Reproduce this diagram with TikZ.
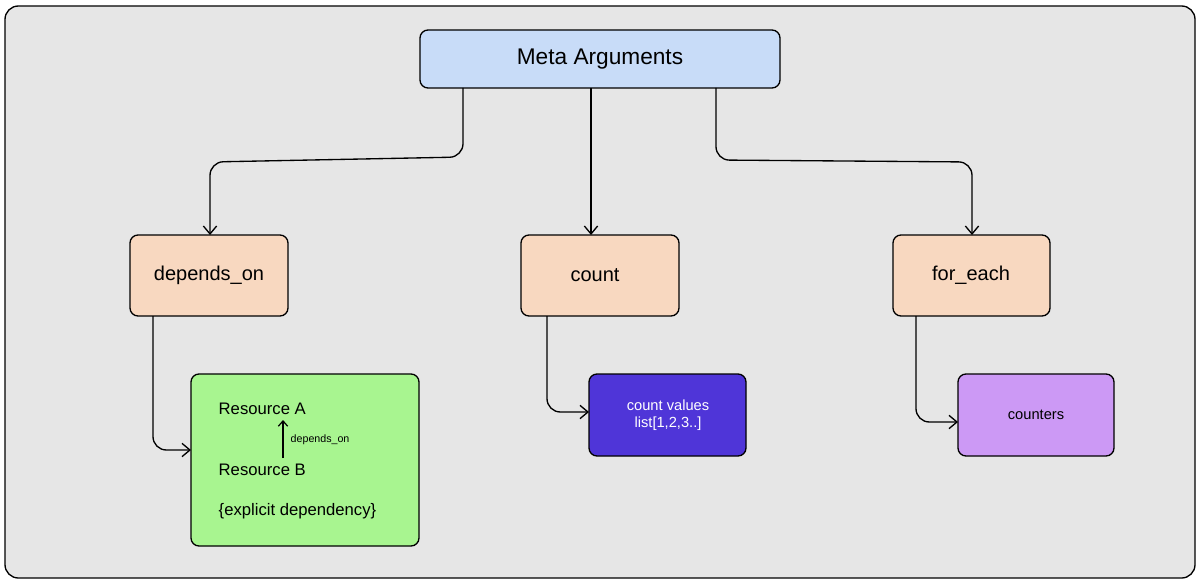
\documentclass[tikz,border=0pt]{standalone}
\usepackage{fontspec}
\setmainfont{Liberation Sans}
\usetikzlibrary{arrows.meta}
\definecolor{bg}{HTML}{E6E6E6}
\definecolor{blu}{HTML}{C8DCF8}
\definecolor{pch}{HTML}{F8D8C0}
\definecolor{grn}{HTML}{A8F590}
\definecolor{ind}{HTML}{4F35D8}
\definecolor{lav}{HTML}{CC99F5}
\begin{document}
\begin{tikzpicture}[x=0.75pt,y=-0.75pt,
  box/.style={draw=black,line width=1pt,rounded corners=6pt},
  arr/.style={draw=black,line width=1pt,rounded corners=10pt,-{Straight Barb[length=6pt,width=10pt]}}]
\useasboundingbox (0,0) rectangle (1200,585);
\draw[box,fill=bg,rounded corners=10pt] (5,6) rectangle (1195,578);
\draw[box,fill=blu] (420,30) rectangle (780,88);
\node (meta) at (600,59) {\fontsize{17}{20}\selectfont Meta Arguments};
\draw[box,fill=pch] (130,235) rectangle (288,316);
\node (dep) at (209,275) {\fontsize{15}{18}\selectfont depends\_on};
\draw[box,fill=pch] (521,235) rectangle (679,316);
\node (cnt) at (595,275) {\fontsize{15}{18}\selectfont count};
\draw[box,fill=pch] (893,235) rectangle (1050,316);
\node (fe) at (971,275) {\fontsize{15}{18}\selectfont for\_each};
\draw[box,fill=grn] (191,374) rectangle (419,546);
\draw[box,fill=ind] (589,374) rectangle (746,456);
\node[text=white,align=center,font=\fontsize{11}{13}\selectfont] (cv) at (668,415) {count values\\list[1,2,3..]};
\draw[box,fill=lav] (958,374) rectangle (1114,456);
\node[font=\fontsize{11}{13}\selectfont] (ctr) at (1036,415) {counters};
\node[anchor=west,font=\fontsize{12.5}{15}\selectfont] (ra) at (214,409) {Resource A};
\node[anchor=west,font=\fontsize{12.5}{15}\selectfont] (rb) at (214,470) {Resource B};
\node[anchor=west,font=\fontsize{12.5}{15}\selectfont] (ex) at (214,511) {\{explicit dependency\}};
\coordinate (u1) at (283,458); \coordinate (u2) at (283,420);
\draw[line width=0.9pt,-{Straight Barb[length=4pt,width=7pt]}] (u1) -- (u2);
\node[anchor=west,font=\fontsize{8}{10}\selectfont] (dl) at (286,440) {depends\_on};
\coordinate (m1) at (463,88); \coordinate (m2) at (591,88); \coordinate (m3) at (716,88);
\coordinate (t1) at (210,235); \coordinate (t2) at (591,235); \coordinate (t3) at (972,235);
\draw[arr] (m1) -- (463,157) -- (210,162) -- (t1);
\draw[arr] (m2) -- (t2);
\draw[arr] (m3) -- (716,160) -- (972,162) -- (t3);
\coordinate (b1) at (153,316); \coordinate (b2) at (547,316); \coordinate (b3) at (916,316);
\draw[arr] (b1) -- (153,450) -- (191,450);
\draw[arr] (b2) -- (547,412) -- (589,412);
\draw[arr] (b3) -- (916,422) -- (958,422);
\end{tikzpicture}
\end{document}
